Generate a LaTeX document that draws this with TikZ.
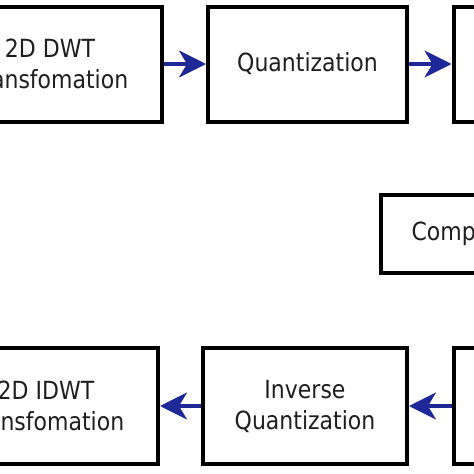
\documentclass[tikz,border=0pt]{standalone}
\usepackage{fontspec}
\setmainfont{DejaVu Sans}[FakeStretch=0.88]
\usetikzlibrary{arrows.meta}
\definecolor{arrowblue}{RGB}{30,40,150}
\definecolor{textgray}{RGB}{30,30,30}
\begin{document}
\begin{tikzpicture}[x=1pt, y=1pt,
    block/.style={draw, line width=4pt, minimum height=115pt, align=center,
        text=textgray, font=\fontsize{25}{31}\selectfont},
    flow/.style={draw=arrowblue, line width=3.2pt,
        -{Stealth[length=27pt, width=27pt, inset=8pt]}}]
    \clip (0,0) rectangle (474,-474);
    \node[block, minimum width=224pt] (dwt) at (50,-64) {2D DWT\\Transfomation};
    \node[block, minimum width=199pt] (quant) at (307.5,-64) {Quantization};
    \node[block, minimum width=200pt] (rtop) at (553.5,-64) {};
    \node[block, minimum width=204pt, minimum height=78pt] (comp) at (483,-234) {Compression};
    \node[block, minimum width=224pt, minimum height=116pt] (idwt) at (46,-406) {2D IDWT\\Transfomation};
    \node[block, minimum width=204pt, minimum height=116pt] (iquant) at (305,-406) {Inverse\\Quantization};
    \node[block, minimum width=200pt, minimum height=116pt] (rbot) at (553.5,-406) {};
    \draw[flow] (dwt) -- (quant);
    \draw[flow] (quant) -- (rtop);
    \draw[flow] (rbot) -- (iquant);
    \draw[flow] (iquant) -- (idwt);
\end{tikzpicture}
\end{document}
